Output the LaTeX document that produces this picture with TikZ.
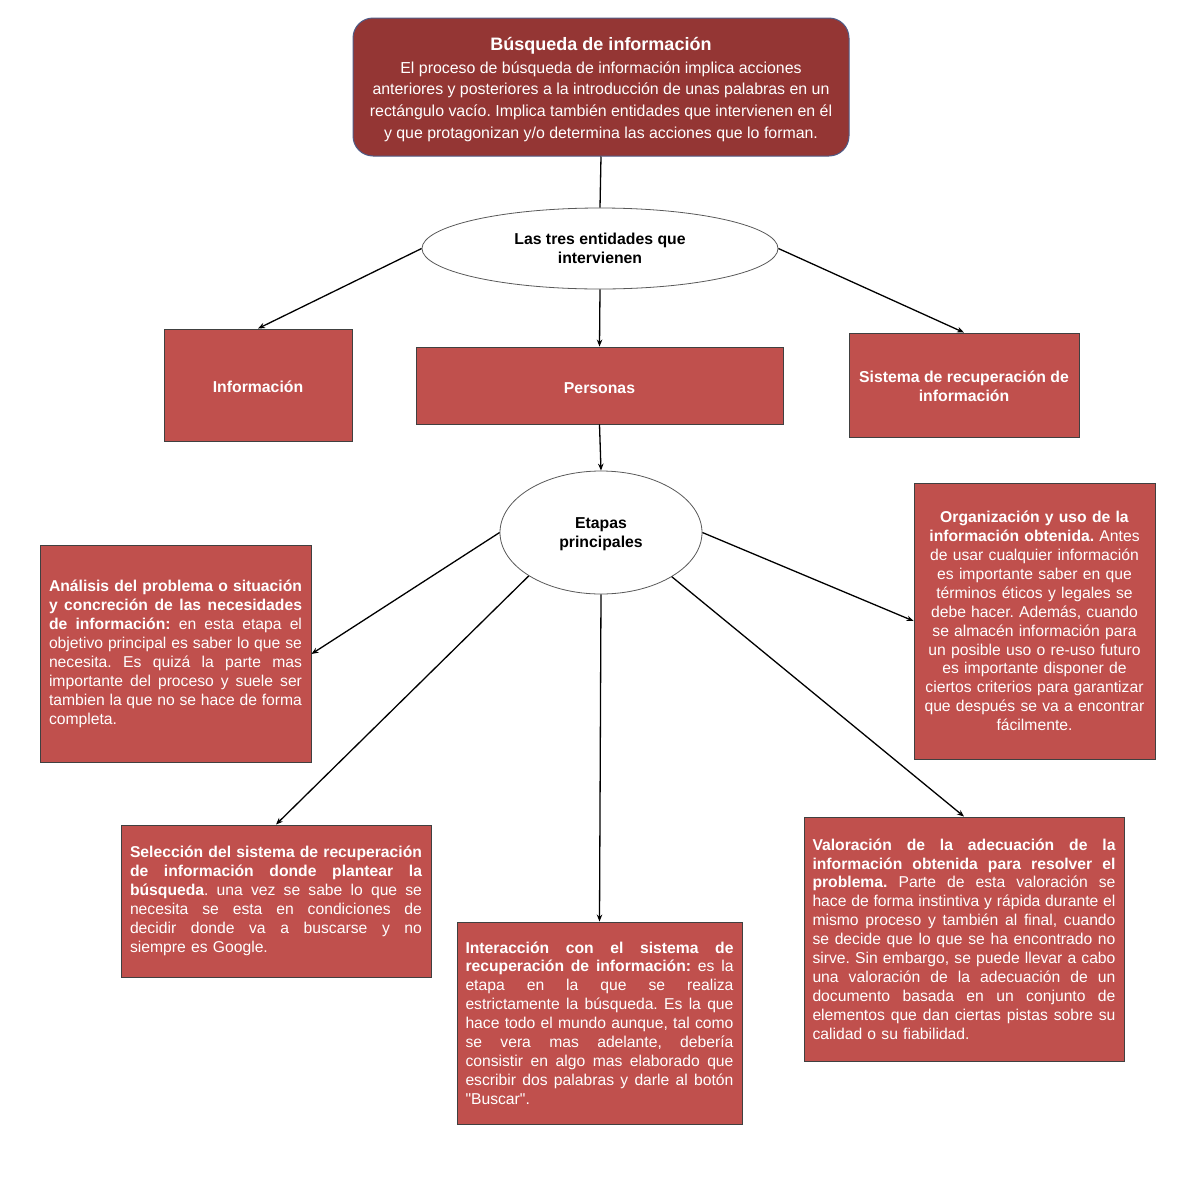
\documentclass[tikz,border=0pt]{standalone}
\usepackage{fontspec}
\setmainfont{Liberation Sans}
\usetikzlibrary{shapes.geometric,arrows.meta}
\definecolor{boxred}{HTML}{C0504D}
\definecolor{topred}{HTML}{943634}
\definecolor{topedge}{HTML}{4F5B86}
\definecolor{boxedge}{HTML}{404040}
\newlength\jw
\newcommand\jl[1]{\hbox to\jw{\spaceskip=0pt\xspaceskip=0pt #1}}
\newcommand\sq{{\addfontfeature{Ligatures=TeXOff}"}}
\tikzset{
  redbox/.style={draw=boxedge, line width=0.9pt, fill=boxred, text=white, inner sep=0pt, anchor=center},
  ovalnode/.style={ellipse, draw=black!65, line width=0.8pt, fill=white, inner sep=0pt, align=center,
     font=\fontsize{15.8}{19}\selectfont\bfseries},
  conn/.style={line width=1.3pt, -{Stealth[length=7pt,width=5.5pt]}},
  plain/.style={line width=1.3pt},
  labelfont/.style={font=\fontsize{15.8}{19}\selectfont\bfseries},
  bodytext/.style={font=\fontsize{15.7}{18.9}\selectfont\frenchspacing}
}
\begin{document}
\begin{tikzpicture}[x=1pt,y=-1pt]
\useasboundingbox (0,0) rectangle (1200,1200);
% top box
\node[draw=topedge, line width=1pt, fill=topred, rounded corners=20pt, text=white,
      minimum width=496pt, minimum height=138pt, inner sep=0pt, align=center,
      font=\fontsize{15.9}{21.7}\selectfont\frenchspacing] (top) at (601,87)
  {\\[-4pt]{\fontsize{18}{22}\selectfont\bfseries Búsqueda de información}\\[1pt]
   El proceso de búsqueda de información implica acciones\\
   anteriores y posteriores a la introducción de unas palabras en un\\
   rectángulo vacío. Implica también entidades que intervienen en él\\
   y que protagonizan y/o determina las acciones que lo forman.};
% ellipse 1
\node[ovalnode, minimum width=356pt, minimum height=81pt] (e1) at (600,248.5)
  {Las tres entidades que\\intervienen};
% three entities
\node[redbox, labelfont, minimum width=188pt, minimum height=112pt, text height=15pt, text depth=0pt] (info) at (258,385) {Información};
\node[redbox, labelfont, minimum width=367pt, minimum height=77pt, text height=15pt, text depth=0pt] (pers) at (599.5,385.5) {Personas};
\node[redbox, labelfont, minimum width=230pt, minimum height=104pt, align=center] (sist) at (964,385) {\\[-4pt]Sistema de recuperación de\\información};
% ellipse 2
\node[ovalnode, minimum width=202pt, minimum height=123pt] (e2) at (601,532.5)
  {\\[-4pt]Etapas\\principales};
% stage boxes
\node[redbox, bodytext, minimum width=271pt, minimum height=217pt, text width=253pt, align=left] (ana) at (175.5,654)
  {\setlength\jw{253pt}%
   \jl{\bfseries Análisis del problema o situación}
   \jl{\bfseries y concreción de las necesidades}
   \jl{\textbf{de información:} en esta etapa el}
   \jl{objetivo principal es saber lo que se}
   \jl{necesita. Es quizá la parte mas}
   \jl{importante del proceso y suele ser}
   \jl{tambien la que no se hace de forma}
   \hbox{completa.}};
\node[redbox, bodytext, minimum width=310pt, minimum height=152pt, text width=292pt, align=left] (sel) at (276,901)
  {\setlength\jw{292pt}%
   \jl{\bfseries Selección del sistema de recuperación}
   \jl{\bfseries de información donde plantear la}
   \jl{\textbf{búsqueda}. una vez se sabe lo que se}
   \jl{necesita se esta en condiciones de}
   \jl{decidir donde va a buscarse y no}
   \hbox{siempre es Google.}};
\node[redbox, bodytext, minimum width=285pt, minimum height=202pt, text width=268pt, align=left] (inter) at (599.5,1023)
  {\setlength\jw{268pt}%
   \jl{\bfseries Interacción con el sistema de}
   \jl{\textbf{recuperación de información:} es la}
   \jl{etapa en la que se realiza}
   \jl{estrictamente la búsqueda. Es la que}
   \jl{hace todo el mundo aunque, tal como}
   \jl{se vera mas adelante, debería}
   \jl{consistir en algo mas elaborado que}
   \jl{escribir dos palabras y darle al botón}
   \hbox{\sq Buscar\sq.}};
\node[redbox, bodytext, minimum width=320pt, minimum height=244pt, text width=303pt, align=left] (val) at (964,939)
  {\setlength\jw{303pt}%
   \jl{\bfseries Valoración de la adecuación de la}
   \jl{\bfseries información obtenida para resolver el}
   \jl{\textbf{problema.} Parte de esta valoración se}
   \jl{hace de forma instintiva y rápida durante el}
   \jl{mismo proceso y también al final, cuando}
   \jl{se decide que lo que se ha encontrado no}
   \jl{sirve. Sin embargo, se puede llevar a cabo}
   \jl{una valoración de la adecuación de un}
   \jl{documento basada en un conjunto de}
   \jl{elementos que dan ciertas pistas sobre su}
   \hbox{calidad o su fiabilidad.}};
\node[redbox, bodytext, minimum width=241pt, minimum height=276pt, text width=230pt, align=center] (org) at (1034.5,621)
  {\textbf{Organización y uso de la}\\
   \textbf{información obtenida.} Antes\\
   de usar cualquier información\\
   es importante saber en que\\
   términos éticos y legales se\\
   debe hacer. Además, cuando\\
   se almacén información para\\
   un posible uso o re-uso futuro\\
   es importante disponer de\\
   ciertos criterios para garantizar\\
   que después se va a encontrar\\
   fácilmente.};
% connectors
\draw[plain] (top.south) -- (e1.north);
\draw[conn] (e1.west) -- (info.north);
\draw[conn] (e1.south) -- (pers.north);
\draw[conn] (e1.east) -- (sist.north);
\draw[conn] (pers.south) -- (e2.north);
\draw[conn] (e2.west) -- (ana.east);
\draw[conn] (e2.211.5) -- (sel.north);
\draw[conn] (e2.south) -- (inter.north);
\draw[conn] (e2.328.5) -- (val.north);
\draw[conn] (e2.east) -- (org.west);
\end{tikzpicture}
\end{document}
